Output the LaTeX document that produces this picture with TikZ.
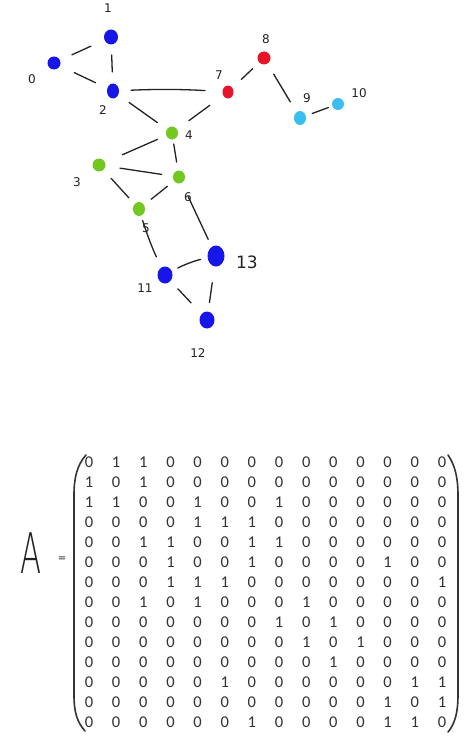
\documentclass[tikz,border=0pt]{standalone}
\usepackage{fontspec}
\usetikzlibrary{shapes.geometric}
\newfontfamily\mxfont{Carlito}
\newfontfamily\handfont{DejaVu Sans ExtraLight}
\newfontfamily\lblfont{DejaVu Sans}
\definecolor{vblue}{RGB}{22,22,232}
\definecolor{vred}{RGB}{230,22,40}
\definecolor{vgreen}{RGB}{112,200,32}
\definecolor{vcyan}{RGB}{58,190,240}
\definecolor{inkc}{RGB}{34,34,34}
\definecolor{digc}{RGB}{51,51,51}
\begin{document}
\begin{tikzpicture}[x=1pt,y=-1pt,
  vtx/.style={ellipse,inner sep=0pt,draw=none},
  edge/.style={draw=inkc,line width=1.3pt,line cap=round},
  lbl/.style={font=\lblfont\fontsize{12}{12}\selectfont,text=inkc,inner sep=0pt},
  mx/.style={font=\mxfont\fontsize{16.5}{16.5}\selectfont,text=digc,inner sep=0pt},
  paren/.style={draw=digc,line width=1.6pt,line cap=round}]
\useasboundingbox (0,0) rectangle (474,752);
% vertices
\node[vtx,fill=vblue,minimum width=13pt,minimum height=13pt] (n0) at (54,63) {};
\node[vtx,fill=vblue,minimum width=14pt,minimum height=15pt] (n1) at (111,37) {};
\node[vtx,fill=vblue,minimum width=12pt,minimum height=15pt] (n2) at (113,91) {};
\node[vtx,fill=vgreen,minimum width=13pt,minimum height=13pt] (n3) at (99,165) {};
\node[vtx,fill=vgreen,minimum width=12pt,minimum height=13pt] (n4) at (172,133) {};
\node[vtx,fill=vgreen,minimum width=12pt,minimum height=14pt] (n5) at (139,209) {};
\node[vtx,fill=vgreen,minimum width=12pt,minimum height=13pt] (n6) at (179,177) {};
\node[vtx,fill=vred,minimum width=11pt,minimum height=13pt] (n7) at (228,92) {};
\node[vtx,fill=vred,minimum width=13pt,minimum height=13pt] (n8) at (264,58) {};
\node[vtx,fill=vcyan,minimum width=12pt,minimum height=14pt] (n9) at (300,118) {};
\node[vtx,fill=vcyan,minimum width=12pt,minimum height=12pt] (n10) at (338,104) {};
\node[vtx,fill=vblue,minimum width=15pt,minimum height=17pt] (n11) at (165,275) {};
\node[vtx,fill=vblue,minimum width=15pt,minimum height=17pt] (n12) at (207,320) {};
\node[vtx,fill=vblue,minimum width=17pt,minimum height=21pt] (n13) at (216,256) {};
% labels
\node[lbl] (l0) at (32,79) {0};
\node[lbl] (l1) at (108,8) {1};
\node[lbl] (l2) at (103,110) {2};
\node[lbl] (l3) at (77,182) {3};
\node[lbl] (l4) at (189,135) {4};
\node[lbl] (l5) at (146,228) {5};
\node[lbl] (l6) at (188,197) {6};
\node[lbl] (l7) at (219,75) {7};
\node[lbl] (l8) at (266,39) {8};
\node[lbl] (l9) at (307,98) {9};
\node[lbl] (l10) at (359,93) {10};
\node[lbl] (l11) at (145,288) {11};
\node[lbl] (l12) at (198,353) {12};
\node[lbl,font=\lblfont\fontsize{17}{17}\selectfont] (l13) at (247,262) {13};
% edges
\draw[edge,shorten <=19.7pt,shorten >=22.1pt] (n0.center) -- (n1.center);
\draw[edge,shorten <=22.5pt,shorten >=19.2pt] (n0.center) -- (n2.center);
\draw[edge,shorten <=18pt,shorten >=19pt] (n1.center) -- (n2.center);
\draw[edge,shorten <=18pt,shorten >=23pt] (n2.center) to[bend left=3] (n7.center);
\draw[edge,shorten <=19.8pt,shorten >=18pt] (n2.center) -- (n4.center);
\draw[edge,shorten <=22.5pt,shorten >=20.8pt] (n7.center) -- (n4.center);
\draw[edge,shorten <=15.8pt,shorten >=25.6pt] (n4.center) -- (n3.center);
\draw[edge,shorten <=11.2pt,shorten >=15.1pt] (n4.center) -- (n6.center);
\draw[edge,shorten <=21.2pt,shorten >=17.5pt] (n3.center) -- (n6.center);
\draw[edge,shorten <=18pt,shorten >=15pt] (n3.center) -- (n5.center);
\draw[edge,shorten <=14.9pt,shorten >=15.6pt] (n6.center) -- (n5.center);
\draw[edge,shorten <=12pt,shorten >=20.2pt] (n5.center) to[bend right=4] (n11.center);
\draw[edge,shorten <=21.4pt,shorten >=18.4pt] (n6.center) -- (n13.center);
\draw[edge,shorten <=14.6pt,shorten >=15.7pt] (n11.center) to[bend left=8] (n13.center);
\draw[edge,shorten <=18.9pt,shorten >=23.4pt] (n11.center) -- (n12.center);
\draw[edge,shorten <=27pt,shorten >=17.7pt] (n13.center) -- (n12.center);
\draw[edge,shorten <=18.4pt,shorten >=15.6pt] (n7.center) -- (n8.center);
\draw[edge,shorten <=18.9pt,shorten >=18.8pt] (n8.center) -- (n9.center);
\draw[edge,shorten <=13pt,shorten >=10.3pt] (n9.center) -- (n10.center);
% A =
\node[font=\handfont\fontsize{56}{56}\selectfont,text=inkc,inner sep=0pt,xscale=0.55] (A) at (31,553) {A};
\node[font=\lblfont\fontsize{10}{10}\selectfont,text=inkc,inner sep=0pt] (eq) at (62,559) {=};
% matrix entries
\foreach \row [count=\i from 0] in {
 {0,1,1,0,0,0,0,0,0,0,0,0,0,0},
 {1,0,1,0,0,0,0,0,0,0,0,0,0,0},
 {1,1,0,0,1,0,0,1,0,0,0,0,0,0},
 {0,0,0,0,1,1,1,0,0,0,0,0,0,0},
 {0,0,1,1,0,0,1,1,0,0,0,0,0,0},
 {0,0,0,1,0,0,1,0,0,0,0,1,0,0},
 {0,0,0,1,1,1,0,0,0,0,0,0,0,1},
 {0,0,1,0,1,0,0,0,1,0,0,0,0,0},
 {0,0,0,0,0,0,0,1,0,1,0,0,0,0},
 {0,0,0,0,0,0,0,0,1,0,1,0,0,0},
 {0,0,0,0,0,0,0,0,0,1,0,0,0,0},
 {0,0,0,0,0,1,0,0,0,0,0,0,1,1},
 {0,0,0,0,0,0,0,0,0,0,0,1,0,1},
 {0,0,0,0,0,0,1,0,0,0,0,1,1,0}} {
  \foreach \v [count=\j from 0] in \row {
    \node[mx] (m\i-\j) at (89+27.15*\j, 462+20*\i) {\v};
  }
}
% parentheses
\draw[paren] (86,455) .. controls (77,465) and (74,478) .. (74,495) -- (74,695) .. controls (74,712) and (77,722) .. (85,731);
\draw[paren] (448,455) .. controls (455,465) and (458,478) .. (458,495) -- (458,695) .. controls (458,712) and (455,724) .. (448,732);
\end{tikzpicture}
\end{document}
